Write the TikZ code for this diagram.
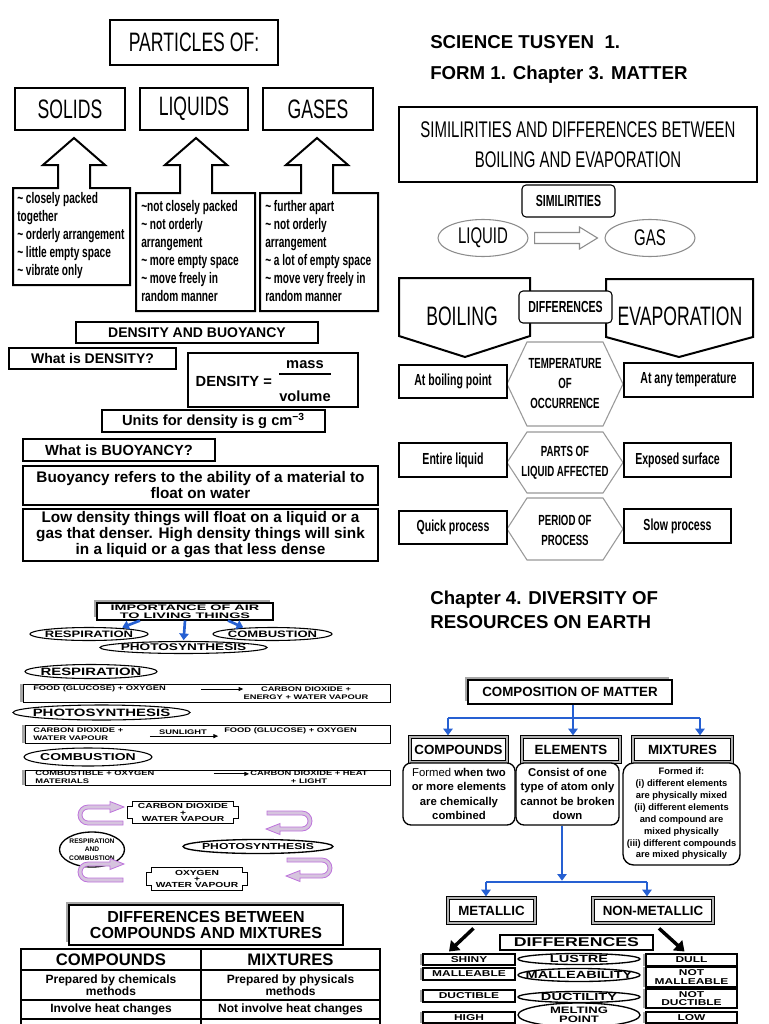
\documentclass[tikz,border=0pt]{standalone}
\usepackage{fontspec}
\setmainfont{Liberation Sans}
\newfontfamily\narrowfont[FakeStretch=0.66]{Liberation Sans}
\newfontfamily\widefont[FakeStretch=1.4]{Liberation Sans}
\newfontfamily\extrawide[FakeStretch=1.8]{Liberation Sans}
\usepackage{xcolor}
\usepackage{tikz}
\usetikzlibrary{arrows.meta,positioning,calc,shapes.geometric,shadows}

\definecolor{busblue}{RGB}{38,96,210}
\definecolor{cyclepurple}{RGB}{190,115,220}
\definecolor{cycleband}{RGB}{214,196,222}
\newcommand{\fsz}[2]{\fontsize{#1}{#2}\selectfont}
% plus-shaped outline round a named node
\newcommand{\notchbox}[1]{%
  \draw[line width=0.6pt] ($(#1.north west)+(5,0)$) -- ($(#1.north east)+(-5,0)$) -- ($(#1.north east)+(-5,5)$)
    -- ($(#1.north east)+(0,5)$) -- ($(#1.south east)+(0,-5)$) -- ($(#1.south east)+(-5,-5)$)
    -- ($(#1.south east)+(-5,0)$) -- ($(#1.south west)+(5,0)$) -- ($(#1.south west)+(5,-5)$)
    -- ($(#1.south west)+(0,-5)$) -- ($(#1.north west)+(0,5)$) -- ($(#1.north west)+(5,5)$) -- cycle;}

\begin{document}
\begin{tikzpicture}[x=0.75pt,y=-0.75pt,
  wh/.style 2 args={minimum width=#1*0.75pt,minimum height=#2*0.75pt},
  frame/.style={draw,line width=1.5pt,fill=white,inner sep=0pt},
  slim/.style={draw,line width=0.8pt,fill=white,inner sep=0pt},
  rbox/.style={slim,rounded corners=3pt},
  softback/.style={drop shadow={shadow xshift=-2pt,shadow yshift=2pt,fill=black!35,opacity=1}},
  leftback/.style={drop shadow={shadow xshift=-2pt,shadow yshift=0pt,fill=black!35,opacity=1}},
  bevel/.style={draw,line width=0.5pt,double=black!30,double distance=1.5pt,fill=white,inner sep=0pt},
  rowbox/.style={slim,leftback},
  hexline/.style={draw=black!40,line width=0.8pt},
  oval/.style={draw,line width=0.8pt},
  bus/.style={busblue,line width=2pt},
  busarr/.style={bus,-{Triangle[length=5pt,width=7pt]},shorten >=1pt},
  blkarr/.style={line width=2.6pt,-{Triangle[length=7pt,width=10pt]}},
  eqarr/.style={line width=0.6pt,-{Triangle[length=3.5pt,width=3pt]}},
  uturn/.pic={\filldraw[draw=cyclepurple,fill=cycleband,line width=0.6pt]
    (35,10) -- (0,10) arc[start angle=90,end angle=270,radius=10] -- (22,-10) -- (22,-13.5)
    -- (36,-8) -- (22,-2.5) -- (22,-6) -- (0,-6) arc[start angle=270,end angle=90,radius=6]
    -- (35,6) -- cycle;}
]
\useasboundingbox (0,0) rectangle (768,1024);
\clip (0,0) rectangle (768,1024);
\fill[white] (0,0) rectangle (768,1024);

% particles of matter
\node[frame,wh={168}{45},font=\narrowfont\fsz{20}{20}] (partTitle) at (194,42.5) {PARTICLES OF:};
\node[frame,wh={110}{42},font=\narrowfont\fsz{20}{20}] (solids) at (70,109) {SOLIDS};
\node[frame,wh={108}{42},font=\narrowfont\fsz{20}{20}] (liquids) at (194,109) {LIQUIDS};
\node[frame,wh={110}{42},font=\narrowfont\fsz{20}{20}] (gases) at (318,109) {GASES};
\foreach \cx/\l/\r/\t/\b in {74/13/130/188/285,196/136/255/193/311,317/260/378/193/311}
  \draw[line width=1.5pt] (\l,\t) -- (\cx-16,\t) -- (\cx-16,165) -- (\cx-31,165) -- (\cx,138)
    -- (\cx+31,165) -- (\cx+16,165) -- (\cx+16,\t) -- (\r,\t) -- (\r,\b) -- (\l,\b) -- cycle;
\node[anchor=north west,align=left,inner sep=0pt,font=\narrowfont\bfseries\fsz{11.5}{13.5}] (solidTxt) at (17,192)
  {\textasciitilde{} closely packed\\together\\\textasciitilde{} orderly arrangement\\\textasciitilde{} little empty space\\\textasciitilde{} vibrate only};
\node[anchor=north west,align=left,inner sep=0pt,font=\narrowfont\bfseries\fsz{11.5}{13.5}] (liquidTxt) at (141,200)
  {\textasciitilde{}not closely packed\\\textasciitilde{} not orderly\\arrangement\\\textasciitilde{} more empty space\\\textasciitilde{} move freely in\\random manner};
\node[anchor=north west,align=left,inner sep=0pt,font=\narrowfont\bfseries\fsz{11.5}{13.5}] (gasTxt) at (265,200)
  {\textasciitilde{} further apart\\\textasciitilde{} not orderly\\arrangement\\\textasciitilde{} a lot of empty space\\\textasciitilde{} move very freely in\\random manner};

% density and buoyancy
\node[frame,wh={242}{21},font=\bfseries\fsz{10.5}{12}] (dbTitle) at (197,332.5) {DENSITY AND BUOYANCY};
\node[frame,wh={167}{21},font=\bfseries\fsz{10.5}{12}] (whatDen) at (92.5,358.5) {What is DENSITY?};
\node[frame,wh={170}{54}] (denBox) at (273,380) {};
\node[anchor=west,font=\bfseries\fsz{11}{12}] (denWord) at (191,381) {DENSITY =};
\node[font=\bfseries\fsz{11}{12}] (massTxt) at (305,365) {mass};
\node[font=\bfseries\fsz{11}{12}] (volTxt) at (305,396) {volume};
\draw[line width=1.2pt] (massTxt.south -| 279,0) -- (massTxt.south -| 331,0);
\node[frame,wh={223}{22},font=\bfseries\fsz{11}{12}] (unitsBox) at (213.5,421) {Units for density is g cm\textsuperscript{−3}};
\node[frame,wh={192}{22},font=\bfseries\fsz{11}{12}] (whatBuoy) at (119,450) {What is BUOYANCY?};
\node[frame,wh={355}{39},align=center,font=\bfseries\fsz{11.5}{12}] (buoyRef) at (200.5,485.5)
  {Buoyancy refers to the ability of a material to\\float on water};
\node[frame,wh={355}{52},align=center,font=\bfseries\fsz{11.5}{12}] (lowDen) at (200.5,535)
  {Low density things will float on a liquid or a\\gas that denser. High density things will sink\\in a liquid or a gas that less dense};

% boiling and evaporation
\node[anchor=west,inner sep=0pt,font=\bfseries\fsz{14}{16}] (sciTitle) at (430,42) {SCIENCE TUSYEN\ \ 1.};
\node[anchor=west,inner sep=0pt,font=\bfseries\fsz{14}{16}] (formTitle) at (430,75) {FORM 1. Chapter 3. MATTER};
\node[frame,line width=2pt,wh={358}{75},align=center,font=\narrowfont\fsz{17}{22.5}] (simTitle) at (578,144.5)
  {SIMILIRITIES AND DIFFERENCES BETWEEN\\BOILING AND EVAPORATION};
\node[rbox,wh={93}{32},font=\narrowfont\bfseries\fsz{12}{12}] (similBox) at (568.5,201) {SIMILIRITIES};
\node[ellipse,draw=black!45,line width=0.8pt,inner sep=0pt,wh={90}{37},font=\narrowfont\fsz{17}{17}] (liquidEll) at (483,238) {LIQUID};
\node[ellipse,draw=black!45,line width=0.8pt,inner sep=0pt,wh={90}{37},font=\narrowfont\fsz{17}{17}] (gasEll) at (650,238) {GAS};
\draw[black!45,line width=0.8pt] ($(liquidEll.east)+(6,-5.5)$) -- ($(gasEll.west)+(-25,-5.5)$) -- ($(gasEll.west)+(-25,-11)$)
  -- ($(gasEll.west)+(-7,0)$) -- ($(gasEll.west)+(-25,11)$) -- ($(gasEll.west)+(-25,5.5)$) -- ($(liquidEll.east)+(6,5.5)$) -- cycle;
\draw[line width=1.5pt] (399,278) -- (530,278) -- (530,336) -- (465,357) -- (399,336) -- cycle;
\draw[line width=1.5pt] (606,279) -- (753,279) -- (753,337) -- (679,357) -- (606,337) -- cycle;
\node[font=\narrowfont\fsz{20}{20}] (boilTxt) at (462,316) {BOILING};
\node[font=\narrowfont\fsz{20}{20}] (evapTxt) at (680,316) {EVAPORATION};
\node[rbox,wh={93}{32},font=\narrowfont\bfseries\fsz{12}{12}] (diffBox) at (565.5,307) {DIFFERENCES};
\foreach \cy/\hh in {384/42,462.5/30.5,529/31}
  \draw[hexline] (507,\cy) -- (527,\cy-\hh) -- (603,\cy-\hh) -- (623,\cy) -- (603,\cy+\hh) -- (527,\cy+\hh) -- cycle;
\node[align=center,font=\narrowfont\bfseries\fsz{11}{15}] (hexTemp) at (565,384) {TEMPERATURE\\OF\\OCCURRENCE};
\node[align=center,font=\narrowfont\bfseries\fsz{11}{15}] (hexParts) at (565,463) {PARTS OF\\LIQUID AFFECTED};
\node[align=center,font=\narrowfont\bfseries\fsz{11}{15}] (hexPeriod) at (565,530) {PERIOD OF\\PROCESS};
\node[frame,wh={108}{33},font=\narrowfont\bfseries\fsz{12}{12}] (atBoil) at (453,381.5) {At boiling point};
\node[frame,wh={129}{34},font=\narrowfont\bfseries\fsz{12}{12}] (atAny) at (688.5,380) {At any temperature};
\node[frame,wh={108}{34},font=\narrowfont\bfseries\fsz{12}{12}] (entire) at (453,460) {Entire liquid};
\node[frame,wh={107}{34},font=\narrowfont\bfseries\fsz{12}{12}] (exposed) at (677.5,460) {Exposed surface};
\node[frame,wh={108}{33},font=\narrowfont\bfseries\fsz{12}{12}] (quick) at (453,527.5) {Quick process};
\node[frame,wh={107}{34},font=\narrowfont\bfseries\fsz{12}{12}] (slow) at (677.5,526) {Slow process};

% importance of air
\node[slim,softback,wh={176}{17},align=center,font=\extrawide\bfseries\fsz{6}{6}] (airTitle) at (185,611.5) {IMPORTANCE OF AIR\\TO LIVING THINGS};
\node[font=\widefont\bfseries\fsz{7}{7}] (respEll1) at (89,634) {RESPIRATION};
\node[font=\widefont\bfseries\fsz{7}{7}] (combEll1) at (272.5,634) {COMBUSTION};
\node[font=\widefont\bfseries\fsz{7.3}{7.3}] (photoEll1) at (183.5,647.5) {PHOTOSYNTHESIS};
\draw[oval] (respEll1) ellipse[x radius=59,y radius=6.5];
\draw[oval] (combEll1) ellipse[x radius=59.5,y radius=6.5];
\draw[oval] (photoEll1) ellipse[x radius=83.5,y radius=6];
\draw[busarr] ($(airTitle.south)+(-45,0)$) -- ($(respEll1)+(32,-6)$);
\draw[busarr] (airTitle.south) -- ($(photoEll1)+(0,-6)$);
\draw[busarr] ($(airTitle.south)+(43,0)$) -- ($(combEll1)+(-28,-6)$);

\node[font=\widefont\bfseries\fsz{8}{8}] (respEll2) at (91,671.5) {RESPIRATION};
\draw[oval] (respEll2) ellipse[x radius=66,y radius=7];
\node[slim,line width=0.6pt,leftback,wh={367}{18}] (respEq) at (206.5,693) {};
\node[anchor=west,inner sep=0pt,font=\widefont\bfseries\fsz{5}{6}] (respIn) at (33,689) {FOOD (GLUCOSE) + OXYGEN};
\node[align=center,inner sep=0pt,font=\widefont\bfseries\fsz{5}{6}] (respOut) at (306,693) {CARBON DIOXIDE +\\ENERGY + WATER VAPOUR};
\draw[eqarr] ($(respIn.east)+(35,0)$) -- (respIn.east -| respOut.west);

\node[font=\widefont\bfseries\fsz{8}{8}] (photoEll2) at (101.5,712.5) {PHOTOSYNTHESIS};
\draw[oval] (photoEll2) ellipse[x radius=88.5,y radius=7.5];
\node[slim,line width=0.6pt,leftback,wh={365}{18}] (photoEq) at (207.5,734) {};
\node[anchor=west,align=left,inner sep=0pt,font=\widefont\bfseries\fsz{5}{6}] (photoIn) at (33,734) {CARBON DIOXIDE +\\WATER VAPOUR};
\node[inner sep=0pt,font=\widefont\bfseries\fsz{5}{6}] (sunLbl) at (183,732) {SUNLIGHT};
\node[anchor=west,inner sep=0pt,font=\widefont\bfseries\fsz{5}{6}] (photoOut) at (224,731) {FOOD (GLUCOSE) + OXYGEN};
\draw[eqarr] ($(sunLbl.south west)+(-9,1.5)$) -- ($(sunLbl.south east)+(11,1.5)$);

\node[font=\widefont\bfseries\fsz{7.5}{7.5}] (combEll2) at (88,757) {COMBUSTION};
\draw[oval] (combEll2) ellipse[x radius=64,y radius=9];
\node[slim,line width=0.6pt,leftback,wh={365}{15}] (combEq) at (207.5,777.5) {};
\node[anchor=west,align=left,inner sep=0pt,font=\widefont\bfseries\fsz{5}{6}] (combIn) at (35,777.5) {COMBUSTIBLE + OXYGEN\\MATERIALS};
\node[align=center,inner sep=0pt,font=\widefont\bfseries\fsz{5}{6}] (combOut) at (309,777.5) {CARBON DIOXIDE + HEAT\\+ LIGHT};
\draw[eqarr] ($(combIn.north east)+(59,3)$) -- ($(combOut.north west)+(-1,3)$);

% carbon / oxygen cycle
\node[inner sep=0pt,align=center,wh={110}{21},font=\widefont\bfseries\fsz{5.5}{4.6}] (co2Box) at (183,812.5) {CARBON DIOXIDE\\+\\WATER VAPOUR};
\notchbox{co2Box}
\node[inner sep=0pt,align=center,wh={100}{22},font=\widefont\bfseries\fsz{5.5}{4.6}] (oxyBox) at (197,879) {OXYGEN\\+\\WATER VAPOUR};
\notchbox{oxyBox}
\node[align=center,font=\bfseries\fsz{5}{6.2}] (rcEll) at (92,849.5) {RESPIRATION\\AND\\COMBUSTION};
\draw[line width=1pt] (rcEll) ellipse[x radius=32.5,y radius=17.5];
\node[font=\widefont\bfseries\fsz{6.5}{6.5}] (psEll) at (258,846.5) {PHOTOSYNTHESIS};
\draw[line width=1pt] (psEll) ellipse[x radius=75,y radius=7];
\pic at (88,815) {uturn};
\pic at (88,872) {uturn};
\pic[rotate=180] at (302,821) {uturn};
\pic[rotate=180] at (322,868) {uturn};

% compounds and mixtures table
\node[slim,line width=1pt,softback,wh={274}{40},align=center,font=\bfseries\fsz{12}{12}] (tblTitle) at (206,925) {DIFFERENCES BETWEEN\\COMPOUNDS AND MIXTURES};
\draw[line width=1.5pt] (21,1030) -- (21,949) -- (380,949) -- (380,1030);
\draw[line width=1pt] (201,949) -- (201,1030);
\foreach \ry in {970,1000,1019}
  \draw[line width=1pt] (21,\ry) -- (380,\ry);
\node[font=\bfseries\fsz{12.5}{12.5}] (hdCmpd) at (111,959.5) {COMPOUNDS};
\node[font=\bfseries\fsz{12.5}{12.5}] (hdMix) at (290.5,959.5) {MIXTURES};
\node[align=center,font=\bfseries\fsz{9}{9}] (prepChem) at (111,985) {Prepared by chemicals\\methods};
\node[align=center,font=\bfseries\fsz{9}{9}] (prepPhys) at (290.5,985) {Prepared by physicals\\methods};
\node[font=\bfseries\fsz{9}{9}] (heatYes) at (111,1009.5) {Involve heat changes};
\node[font=\bfseries\fsz{9}{9}] (heatNo) at (290.5,1009.5) {Not involve heat changes};

% composition of matter
\node[anchor=north west,align=left,inner sep=0pt,font=\bfseries\fsz{14}{18}] (ch4Title) at (430,591) {Chapter 4. DIVERSITY OF\\RESOURCES ON EARTH};
\node[slim,line width=1pt,softback,wh={204}{24},font=\bfseries\fsz{10}{10}] (compBox) at (570,692) {COMPOSITION OF MATTER};
\node[bevel,wh={97}{25},font=\bfseries\fsz{10}{10}] (cmpdBox) at (458.5,749.5) {COMPOUNDS};
\node[bevel,wh={98}{25},font=\bfseries\fsz{10}{10}] (elemBox) at (571,749.5) {ELEMENTS};
\node[bevel,wh={99}{25},font=\bfseries\fsz{10}{10}] (mixBox) at (682.5,749.5) {MIXTURES};
\coordinate (busL) at (448,718);
\coordinate (busM) at (573,718);
\coordinate (busR) at (700,718);
\draw[bus] (compBox.south -| busM) -- (busM);
\draw[bus] (busL) -- (busR);
\draw[busarr] (busL) -- (busL |- cmpdBox.north);
\draw[busarr] (busM) -- (busM |- elemBox.north);
\draw[busarr] (busR) -- (busR |- mixBox.north);
\node[slim,line width=1pt,rounded corners=6pt,wh={112}{62},align=center,font=\bfseries\fsz{8.5}{10.7}] (cmpdDesc) at (459,794)
  {{\mdseries Formed} when two\\or more elements\\are chemically\\combined};
\node[slim,line width=1pt,rounded corners=6pt,wh={103}{62},align=center,font=\bfseries\fsz{8.5}{10.7}] (elemDesc) at (567.5,794)
  {Consist of one\\type of atom only\\cannot be broken\\down};
\node[slim,line width=1pt,rounded corners=8pt,wh={117}{102},align=center,font=\bfseries\fsz{7}{8.9}] (mixDesc) at (681.5,814)
  {Formed if:\\(i) different elements\\are physically mixed\\(ii) different elements\\and compound are\\mixed physically\\(iii) different compounds\\are mixed physically};

\node[bevel,wh={87}{25},font=\bfseries\fsz{10}{10}] (metalBox) at (491.5,910.5) {METALLIC};
\node[bevel,wh={120}{25},font=\bfseries\fsz{10}{10}] (nonmetalBox) at (653,910.5) {NON-METALLIC};
\coordinate (sortL) at (486,882);
\coordinate (sortM) at (562,882);
\coordinate (sortR) at (647,882);
\draw[busarr] (elemDesc.south -| sortM) -- (sortM);
\draw[bus] (sortL) -- (sortR);
\draw[busarr] (sortL) -- (sortL |- metalBox.north);
\draw[busarr] (sortR) -- (sortR |- nonmetalBox.north);

\node[slim,line width=1pt,wh={153}{15},font=\widefont\bfseries\fsz{9.5}{9.5}] (diffBar) at (576.5,942.5) {DIFFERENCES};
\foreach \nm/\cy/\hh/\txt in {shinyBox/959.5/11/SHINY,mallBox/974/12/MALLEABLE,ductBox/996/12/DUCTIBLE,highBox/1017.5/11/HIGH}
  \node[rowbox,wh={92}{\hh},font=\widefont\bfseries\fsz{6.4}{6.2}] (\nm) at (469,\cy) {\txt};
\foreach \nm/\cy/\hh/\txt in {dullBox/960/12/DULL,notMallBox/977/20/{NOT\\MALLEABLE},notDuctBox/998.5/19/{NOT\\DUCTIBLE},lowBox/1017.5/11/LOW}
  \node[rowbox,wh={91}{\hh},align=center,font=\widefont\bfseries\fsz{6.4}{6.2}] (\nm) at (691.5,\cy) {\txt};
\node[font=\widefont\bfseries\fsz{7.8}{7.8}] (lustreEll) at (579,959) {LUSTRE};
\node[font=\widefont\bfseries\fsz{7.8}{7.8}] (mallEll) at (579,975) {MALLEABILITY};
\node[font=\widefont\bfseries\fsz{7.8}{7.8}] (ductEll) at (579,997) {DUCTILITY};
\node[align=center,font=\widefont\bfseries\fsz{7}{6.4}] (meltEll) at (579,1015) {MELTING\\POINT};
\draw[line width=1pt] (lustreEll) ellipse[x radius=61,y radius=5.5];
\draw[line width=1pt] (mallEll) ellipse[x radius=61,y radius=6.5];
\draw[line width=1pt] (ductEll) ellipse[x radius=61,y radius=5.5];
\draw[line width=1pt] (meltEll) ellipse[x radius=61,y radius=12];
\draw[blkarr] ($(metalBox.south)+(-18,5)$) -- ($(shinyBox.north)+(-20,-2)$);
\draw[blkarr] ($(nonmetalBox.south)+(6,5)$) -- ($(dullBox.north)+(-7,-2)$);
\end{tikzpicture}
\end{document}
